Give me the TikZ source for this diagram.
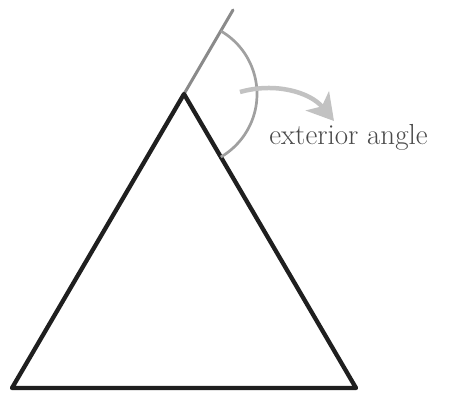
\documentclass[tikz,border=0pt]{standalone}
\usetikzlibrary{arrows.meta}
\definecolor{extgray}{HTML}{8A8A8A}
\definecolor{arcgray}{HTML}{A0A0A0}
\definecolor{arrgray}{HTML}{C2C2C2}
\definecolor{txtgray}{HTML}{4A4A4A}
\tikzset{
  side/.style={line width=4.3pt, draw=black!88, line cap=round, line join=round},
  extline/.style={line width=3pt, draw=extgray, line cap=round},
  anglearc/.style={line width=2.7pt, draw=arcgray},
  pointer/.style={line width=4.5pt, draw=arrgray, -{Stealth[length=26pt,width=30pt,inset=7pt]}},
  lbl/.style={text=txtgray, font=\fontsize{29}{32}\selectfont, inner sep=0pt}
}
\begin{document}
\begin{tikzpicture}[x=1pt,y=-1pt]
\useasboundingbox (0,0) rectangle (474,405);
\coordinate (A) at (184,94);
\coordinate (B) at (12,388);
\coordinate (C) at (356,388);
\coordinate (E) at (233,10);
\coordinate (P) at (240,92);
\coordinate (Q) at (334,121);
\node[lbl] (L) at (348.5,137) {exterior angle};
\draw[extline] (A) -- (E);
\draw[side] (A) -- (B) -- (C) -- cycle;
\draw[anglearc] (A) ++(-59.7:73) arc[start angle=-59.7, end angle=59.7, radius=73];
\draw[pointer] (P) .. controls (275,82) and (310,92) .. (Q);
\end{tikzpicture}
\end{document}
